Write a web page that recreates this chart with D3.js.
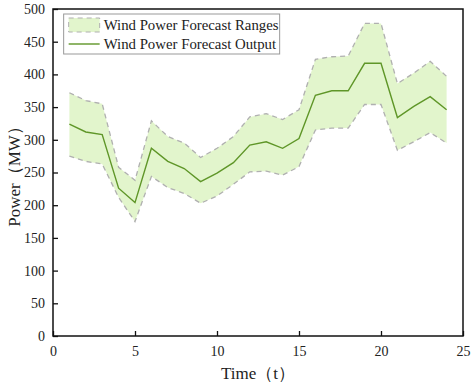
<!DOCTYPE html>
<html>
<head>
<meta charset="utf-8">
<script src="https://cdn.jsdelivr.net/npm/d3@7"></script>
<style>
  body { margin: 0; background: #fff; }
  svg text { font-family: "Liberation Serif", "Times New Roman", serif; fill: #222; }
</style>
</head>
<body>
<div id="chart"></div>
<script>
// Data
var hours = [1, 2, 3, 4, 5, 6, 7, 8, 9, 10, 11, 12, 13, 14, 15, 16, 17, 18, 19, 20, 21, 22, 23, 24];
var forecast = [324, 312, 308, 226, 204, 287, 267, 256, 236, 249, 265, 292, 297, 287, 302, 368, 375, 375, 417, 417, 334, 351, 366, 346];
var upper = [372, 360, 355, 258, 238, 329, 305, 295, 273, 287, 305, 335, 340, 331, 346, 423, 427, 428, 478, 478, 386, 402, 420, 397];
var lower = [275, 267, 263, 212, 175, 244, 227, 218, 203, 214, 232, 251, 252, 246, 259, 315, 318, 318, 354, 354, 284, 297, 311, 295];
var xTicks = [0, 5, 10, 15, 20, 25];
var yTicks = [0, 50, 100, 150, 200, 250, 300, 350, 400, 450, 500];

var margin = { top: 9, right: 11, bottom: 51, left: 53 },
	width = 474 - margin.left - margin.right,
	height = 387 - margin.top - margin.bottom;

var data = hours.map(function (h, i) {
	return { t: h, y: forecast[i], hi: upper[i], lo: lower[i] };
});

var x = d3.scaleLinear().domain([0, 25]).range([0, width]);
var y = d3.scaleLinear().domain([0, 500]).range([height, 0]);

var svg = d3.select("#chart")
	.append("svg")
	.attr("width", 474)
	.attr("height", 387)
	.append("g")
	.attr("transform", "translate(" + margin.left + "," + margin.top + ")");

// Forecast range band
var area = d3.area()
	.x(function (d) { return x(d.t); })
	.y0(function (d) { return y(d.lo); })
	.y1(function (d) { return y(d.hi); });

svg.append("path")
	.datum(data)
	.attr("d", area)
	.attr("fill", "#e2f5cc");

// Dashed edges of the band
["hi", "lo"].forEach(function (k) {
	svg.append("path")
		.datum(data)
		.attr("d", d3.line()
			.x(function (d) { return x(d.t); })
			.y(function (d) { return y(d[k]); }))
		.attr("fill", "none")
		.attr("stroke", "#b0b0b0")
		.attr("stroke-width", 1.3)
		.attr("stroke-dasharray", "5,4");
});

// Forecast output line
svg.append("path")
	.datum(data)
	.attr("d", d3.line()
		.x(function (d) { return x(d.t); })
		.y(function (d) { return y(d.y); }))
	.attr("fill", "none")
	.attr("stroke", "#5f9628")
	.attr("stroke-width", 1.4);

// Axes, ticks pointing inward
var xAxis = svg.append("g")
	.attr("transform", "translate(0," + height + ")")
	.call(d3.axisBottom(x).tickValues(xTicks).tickSizeInner(-5).tickSizeOuter(0).tickPadding(10));

var yAxis = svg.append("g")
	.call(d3.axisLeft(y).tickValues(yTicks).tickSizeInner(-5).tickSizeOuter(0).tickPadding(8));

[xAxis, yAxis].forEach(function (a) {
	a.select(".domain").remove();
	a.selectAll("line").attr("stroke", "#111").attr("stroke-width", 1.3);
	a.selectAll("text")
		.style("font-family", "'Liberation Serif', serif")
		.style("font-size", "14px")
		.attr("fill", "#333");
});

// Frame
svg.append("rect")
	.attr("width", width)
	.attr("height", height)
	.attr("fill", "none")
	.attr("stroke", "#111")
	.attr("stroke-width", 1.5);

// Axis titles
svg.append("text")
	.attr("x", width / 2)
	.attr("y", height + 43)
	.attr("text-anchor", "middle")
	.style("font-size", "17px")
	.text("Time（t）");

svg.append("text")
	.attr("transform", "translate(" + (-33) + "," + (height / 2) + ") rotate(-90)")
	.attr("text-anchor", "middle")
	.style("font-size", "17px")
	.text("Power（MW）");

// Legend
var legend = svg.append("g").attr("transform", "translate(" + (x(0.65)) + ",5)");

legend.append("rect")
	.attr("width", 216)
	.attr("height", 40)
	.attr("fill", "#fff")
	.attr("stroke", "#999")
	.attr("stroke-width", 1);

legend.append("rect")
	.attr("x", 5)
	.attr("y", 4)
	.attr("width", 31)
	.attr("height", 14)
	.attr("fill", "#e2f5cc")
	.attr("stroke", "#b0b0b0")
	.attr("stroke-dasharray", "5,4");

legend.append("line")
	.attr("x1", 5)
	.attr("x2", 36)
	.attr("y1", 30)
	.attr("y2", 30)
	.attr("stroke", "#5f9628")
	.attr("stroke-width", 1.4);

legend.append("text")
	.attr("x", 40)
	.attr("y", 16)
	.style("font-size", "14.8px")
	.text("Wind Power Forecast Ranges");

legend.append("text")
	.attr("x", 40)
	.attr("y", 35)
	.style("font-size", "14.8px")
	.text("Wind Power Forecast Output");
</script>
</body>
</html>
